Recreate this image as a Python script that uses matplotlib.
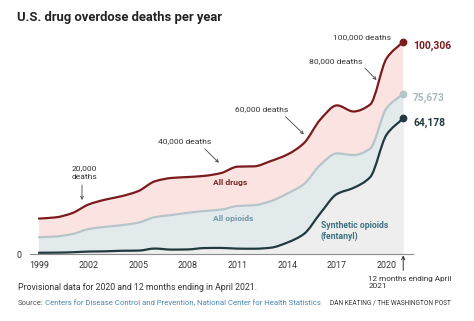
import matplotlib
matplotlib.use("Agg")
import matplotlib.pyplot as plt
from matplotlib.path import Path
from matplotlib.patches import PathPatch
import numpy as np

plt.rcParams['font.family'] = ['Roboto', 'DejaVu Sans']

# ---- data ----
years = [1999, 2000, 2001, 2002, 2003, 2004, 2005, 2006, 2007, 2008, 2009, 2010,
         2011, 2012, 2013, 2014, 2015, 2016, 2017, 2018, 2019, 2020, 2021]
all_drugs = [16849, 17415, 19394, 23518, 25785, 27424, 29813, 34425, 36010, 36450,
             37004, 38329, 41340, 41502, 43982, 47055, 52404, 63632, 70237, 67367,
             70630, 92500, 100306]
all_opioids = [8050, 8407, 9496, 11920, 12940, 13756, 14918, 17545, 18516, 19582,
               20422, 21089, 22784, 23166, 25052, 28647, 33091, 42249, 47600, 46802,
               49860, 69000, 75673]
synthetic = [730, 782, 957, 1295, 1400, 1664, 1742, 2707, 2213, 2306, 2946, 3007,
             2666, 2628, 3105, 5544, 9580, 19413, 28466, 31335, 36359, 56500, 64178]
tick_years = [1999, 2002, 2005, 2008, 2011, 2014, 2017, 2020]
end_labels = ["100,306", "75,673", "64,178"]
annotations = [("20,000\ndeaths", 2001.74, 38500, 2001.6, 32700, 2001.6, 25600),
               ("40,000 deaths", 2007.77, 53600, 2009.02, 49700, 2009.87, 43200),
               ("60,000 deaths", 2012.45, 68600, 2013.89, 64900, 2015.0, 56600),
               ("80,000 deaths", 2016.93, 91200, 2018.69, 87800, 2019.39, 82200),
               ("100,000 deaths", 2018.49, 102400, None, None, None, None)]


def monotone_tangents(x, y):
    x = np.asarray(x, float); y = np.asarray(y, float)
    h = np.diff(x); d = np.diff(y) / h
    n = len(x)
    m = np.zeros(n)
    m[0] = d[0]; m[-1] = d[-1]
    for i in range(1, n - 1):
        if d[i - 1] * d[i] <= 0:
            m[i] = 0
        else:
            w1 = 2 * h[i] + h[i - 1]; w2 = h[i] + 2 * h[i - 1]
            m[i] = (w1 + w2) / (w1 / d[i - 1] + w2 / d[i])
    return m


def smooth_vertices(x, y):
    m = monotone_tangents(x, y)
    verts = [(x[0], y[0])]
    codes = [Path.MOVETO]
    for i in range(len(x) - 1):
        h = x[i + 1] - x[i]
        verts += [(x[i] + h / 3, y[i] + m[i] * h / 3),
                  (x[i + 1] - h / 3, y[i + 1] - m[i + 1] * h / 3),
                  (x[i + 1], y[i + 1])]
        codes += [Path.CURVE4] * 3
    return verts, codes


W, H = 474, 321
fig = plt.figure(figsize=(W / 100, H / 100), dpi=100)
ax = fig.add_axes([30 / W, 1 - 254.3 / H, 383 / W, (254.3 - 30) / H])
ax.set_xlim(1998.46, 2021.59)
ax.set_ylim(0, 105800)

series = [(all_drugs, '#fbe3e1', '#7a1b1d', 1.6),
          (all_opioids, '#e2eaec', '#b6c5ca', 1.6),
          (synthetic, '#eeeeee', '#213a40', 1.6)]

for vals, fc, lc, lw in series:
    v, c = smooth_vertices(years, vals)
    fv = v + [(years[-1], 0), (years[0], 0), (years[0], vals[0])]
    fcodes = c + [Path.LINETO, Path.LINETO, Path.CLOSEPOLY]
    ax.add_patch(PathPatch(Path(fv, fcodes), facecolor=fc, edgecolor='none', zorder=1))
for vals, fc, lc, lw in series:
    v, c = smooth_vertices(years, vals)
    ax.add_patch(PathPatch(Path(v, c), facecolor='none', edgecolor=lc, lw=lw,
                           zorder=3, capstyle='round', joinstyle='round'))
    ax.plot([years[-1]], [vals[-1]], 'o', color=lc, ms=4.6, zorder=4, clip_on=False)

# end labels
for (vals, fc, lc, lw), lab, col in zip(series, end_labels, ['#7a1b1d', '#a9b9bf', '#213a40']):
    ax.text(2021.6, vals[-1] - 2100, lab, color=col, fontsize=7.4, fontweight='bold',
            ha='left', va='center', clip_on=False)

# series labels
ax.text(2010.53, 34100, "All drugs", color='#7a2426', fontsize=6.1, fontweight='bold',
        ha='center', va='center', zorder=5)
ax.text(2010.71, 16800, "All opioids", color='#6b97a7', fontsize=6.1, fontweight='bold',
        ha='center', va='center', zorder=5)
ax.text(2016.03, 11100, "Synthetic opioids\n(fentanyl)", color='#3d7282', fontsize=6.2,
        fontweight='bold', ha='left', va='center', linespacing=1.2, zorder=5)

# annotations
for txt, tx, ty, ax0, ay0, ax1, ay1 in annotations:
    ax.text(tx, ty, txt, fontsize=6.1, color='#333333', ha='center', va='center',
            linespacing=1.5, zorder=5)
    if ax0 is not None:
        ax.annotate("", xy=(ax1, ay1), xytext=(ax0, ay0),
                    arrowprops=dict(arrowstyle='->', lw=0.6, color='#444444',
                                    mutation_scale=5, shrinkA=0, shrinkB=0), zorder=5)

# axes styling
for s in ['top', 'right', 'left']:
    ax.spines[s].set_visible(False)
ax.spines['bottom'].set_color('#8c8c8c')
ax.spines['bottom'].set_linewidth(0.8)
ax.set_xticks(tick_years)
ax.set_xticklabels([str(y) for y in tick_years])
ax.set_yticks([0])
ax.set_yticklabels(["0"])
ax.tick_params(axis='x', length=0, labelsize=6.4, labelcolor='#333333', pad=5)
ax.tick_params(axis='y', length=0, labelsize=6.4, labelcolor='#333333', pad=6)

# 12 months arrow
ax.annotate("", xy=(2021, -500), xytext=(2021, -7600), xycoords='data',
            arrowprops=dict(arrowstyle='->', lw=0.7, color='#333333', mutation_scale=6,
                            shrinkA=0, shrinkB=0), annotation_clip=False)
fig.text(368.3 / W, 1 - 282.5 / H, "12 months ending April\n2021", fontsize=5.9,
         color='#333333', ha='left', va='center', linespacing=1.35)

# title and footer
fig.text(17 / W, 1 - 17 / H, "U.S. drug overdose deaths per year", fontsize=9.4,
         fontweight='bold', color='#222222', ha='left', va='center')
fig.text(18 / W, 1 - 287.3 / H, "Provisional data for 2020 and 12 months ending in April 2021.",
         fontsize=6.3, color='#333333', ha='left', va='center')
fig.text(18 / W, 1 - 303.3 / H, "Source:", fontsize=5.5, color='#555555', ha='left', va='center')
fig.text(45 / W, 1 - 303.3 / H,
         "Centers for Disease Control and Prevention, National Center for Health Statistics",
         fontsize=5.55, color='#4a87ad', ha='left', va='center')
fig.text(330 / W, 1 - 303.3 / H, "DAN KEATING / THE WASHINGTON POST", fontsize=4.7,
         color='#333333', ha='left', va='center')

fig.savefig("out.png", dpi=100, facecolor='white')
